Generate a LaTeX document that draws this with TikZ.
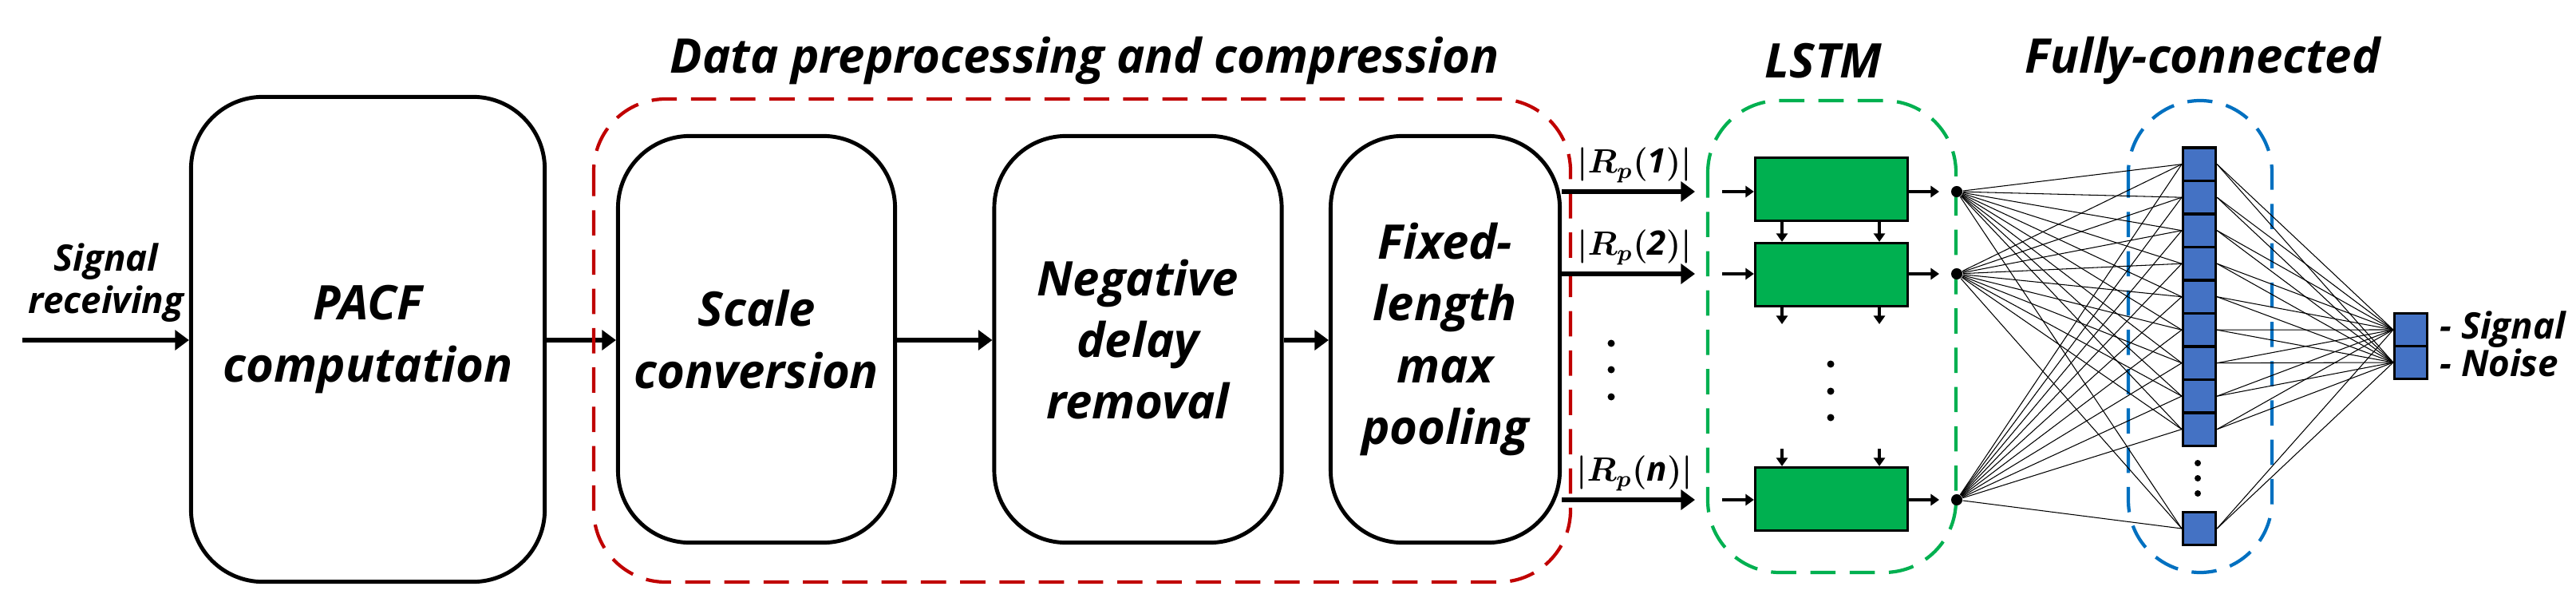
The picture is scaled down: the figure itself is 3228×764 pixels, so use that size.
\documentclass[tikz,border=0pt]{standalone}
\usepackage{amsmath}
\usepackage{fontspec}
\setmainfont{Open Sans}
\usetikzlibrary{arrows.meta}
\definecolor{dred}{RGB}{192,0,0}
\definecolor{lgreen}{RGB}{0,176,80}
\definecolor{lblue}{RGB}{0,112,192}
\definecolor{ublue}{RGB}{68,114,196}
\tikzset{
  blk/.style={draw, line width=1.4pt, rounded corners=0.9cm, inner sep=0pt, align=center,
    font=\fontsize{17}{22}\selectfont\bfseries\itshape},
  grp/.style={line width=1.2pt, dash pattern=on 9pt off 5pt, rounded corners=0.9cm},
  ttl/.style={font=\fontsize{17}{20}\selectfont\bfseries\itshape},
  cell/.style={draw, line width=0.9pt, fill=lgreen, minimum width=1.91cm, minimum height=0.79cm, inner sep=0pt},
  unit/.style={draw, line width=0.9pt, fill=ublue, minimum width=0.41cm, minimum height=0.415cm, inner sep=0pt},
  big/.style={-{Triangle[length=5pt,width=7pt]}, line width=1.8pt},
  sml/.style={-{Triangle[length=3pt,width=4pt]}, line width=1pt},
  wire/.style={line width=0.3pt}
}
\begin{document}
\begin{tikzpicture}[x=0.01cm, y=-0.01cm]
	 	\useasboundingbox (0,0) rectangle (3228,764);
	 	% Main blocks
	 	\node[blk, minimum width=4.43cm, minimum height=6.07cm] (pacf) at (461,425) {PACF\\computation};
	 	\node[blk, minimum width=3.47cm, minimum height=5.09cm] (scale) at (948,425) {Scale\\conversion};
	 	\node[blk, minimum width=3.6cm, minimum height=5.09cm] (negdel) at (1426,425) {Negative\\delay\\removal};
	 	\node[blk, minimum width=2.87cm, minimum height=5.09cm] (fixed) at (1811,425) {Fixed-\\length\\max\\pooling};
	 	% Input
	 	\coordinate (src) at (28,426);
	 	\node[align=center, font=\fontsize{13}{15}\selectfont\bfseries\itshape] (sig) at (133,354) {Signal\\receiving};
	 	\draw[big] (src) -- (pacf.west |- src);
	 	\draw[big] (pacf.east |- src) -- (scale.west |- src);
	 	\draw[big] (scale.east |- src) -- (negdel.west |- src);
	 	\draw[big] (negdel.east |- src) -- (fixed.west |- src);
	 	% Groups
	 	\draw[grp, dred] (744,124) rectangle (1968,729);
	 	\node[ttl] (tdata) at (1359,76) {Data preprocessing and compression};
	 	\draw[grp, lgreen] (2140,126) rectangle (2451,717);
	 	\node[ttl] (tlstm) at (2285,76) {LSTM};
	 	\draw[grp, lblue] (2667,126) rectangle (2847,717);
	 	\node[ttl] (tfc) at (2760,76) {Fully-connected};
	 	% LSTM cells
	 	\node[cell] (c1) at (2295,237) {};
	 	\node[cell] (c2) at (2295,344) {};
	 	\node[cell] (c3) at (2295,625) {};
	 	\foreach \i/\y/\t in {1/240/1, 2/343/2, 3/626/n} {
	 		\coordinate (a\i) at (2124,\y);
	 		\coordinate (b\i) at (2158,\y);
	 		\coordinate[fill, circle, inner sep=0pt, minimum size=4pt] (d\i) at (2452,\y);
	 		\draw[big] (fixed.east |- a\i) -- (a\i);
	 		\node[font=\large] (r\i) at (2048,\y-33) {$\boldsymbol{\lvert R_p(\mathit{\t})\rvert}$};
	 		\draw[sml] (b\i) -- (c\i.west |- b\i);
	 		\draw[sml] (c\i.east |- b\i) -- (2430,\y);
	 	}
	 	\foreach \x in {2233,2355} {
	 		\draw[sml] (c1.south -| \x,0) -- (c2.north -| \x,0);
	 		\draw[sml] (c2.south -| \x,0) -- (\x,406);
	 		\draw[sml] (\x,562) -- (c3.north -| \x,0);
	 	}
	 	\foreach \y in {430,463,497} \fill (2019,\y) circle (4.5);
	 	\foreach \y in {456,490,523} \fill (2294,\y) circle (4.5);
	 	% Fully-connected units
	 	\foreach \i in {1,...,9}
	 		\node[unit] (f\i) at (2756,185+20.7+41.5*\i-41.5) {};
	 	\node[unit] (f10) at (2756,662) {};
	 	\foreach \y in {580,599,618} \fill (2754,\y) circle (4);
	 	\node[unit] (o1) at (3021,413) {};
	 	\node[unit] (o2) at (3021,454) {};
	 	\node[anchor=west, font=\fontsize{13}{15}\selectfont\bfseries\itshape] (l1) at (3045,413) {- Signal};
	 	\node[anchor=west, font=\fontsize{13}{15}\selectfont\bfseries\itshape] (l2) at (3045,454) {- Noise};
	 	% Connections
	 	\foreach \i in {1,2,3}
	 		\foreach \j in {1,...,10}
	 			\draw[wire] (d\i) -- (f\j.west);
	 	\foreach \j in {1,...,10}
	 		\foreach \k in {1,2}
	 			\draw[wire] (f\j.east) -- (o\k.west);
\end{tikzpicture}
\end{document}
